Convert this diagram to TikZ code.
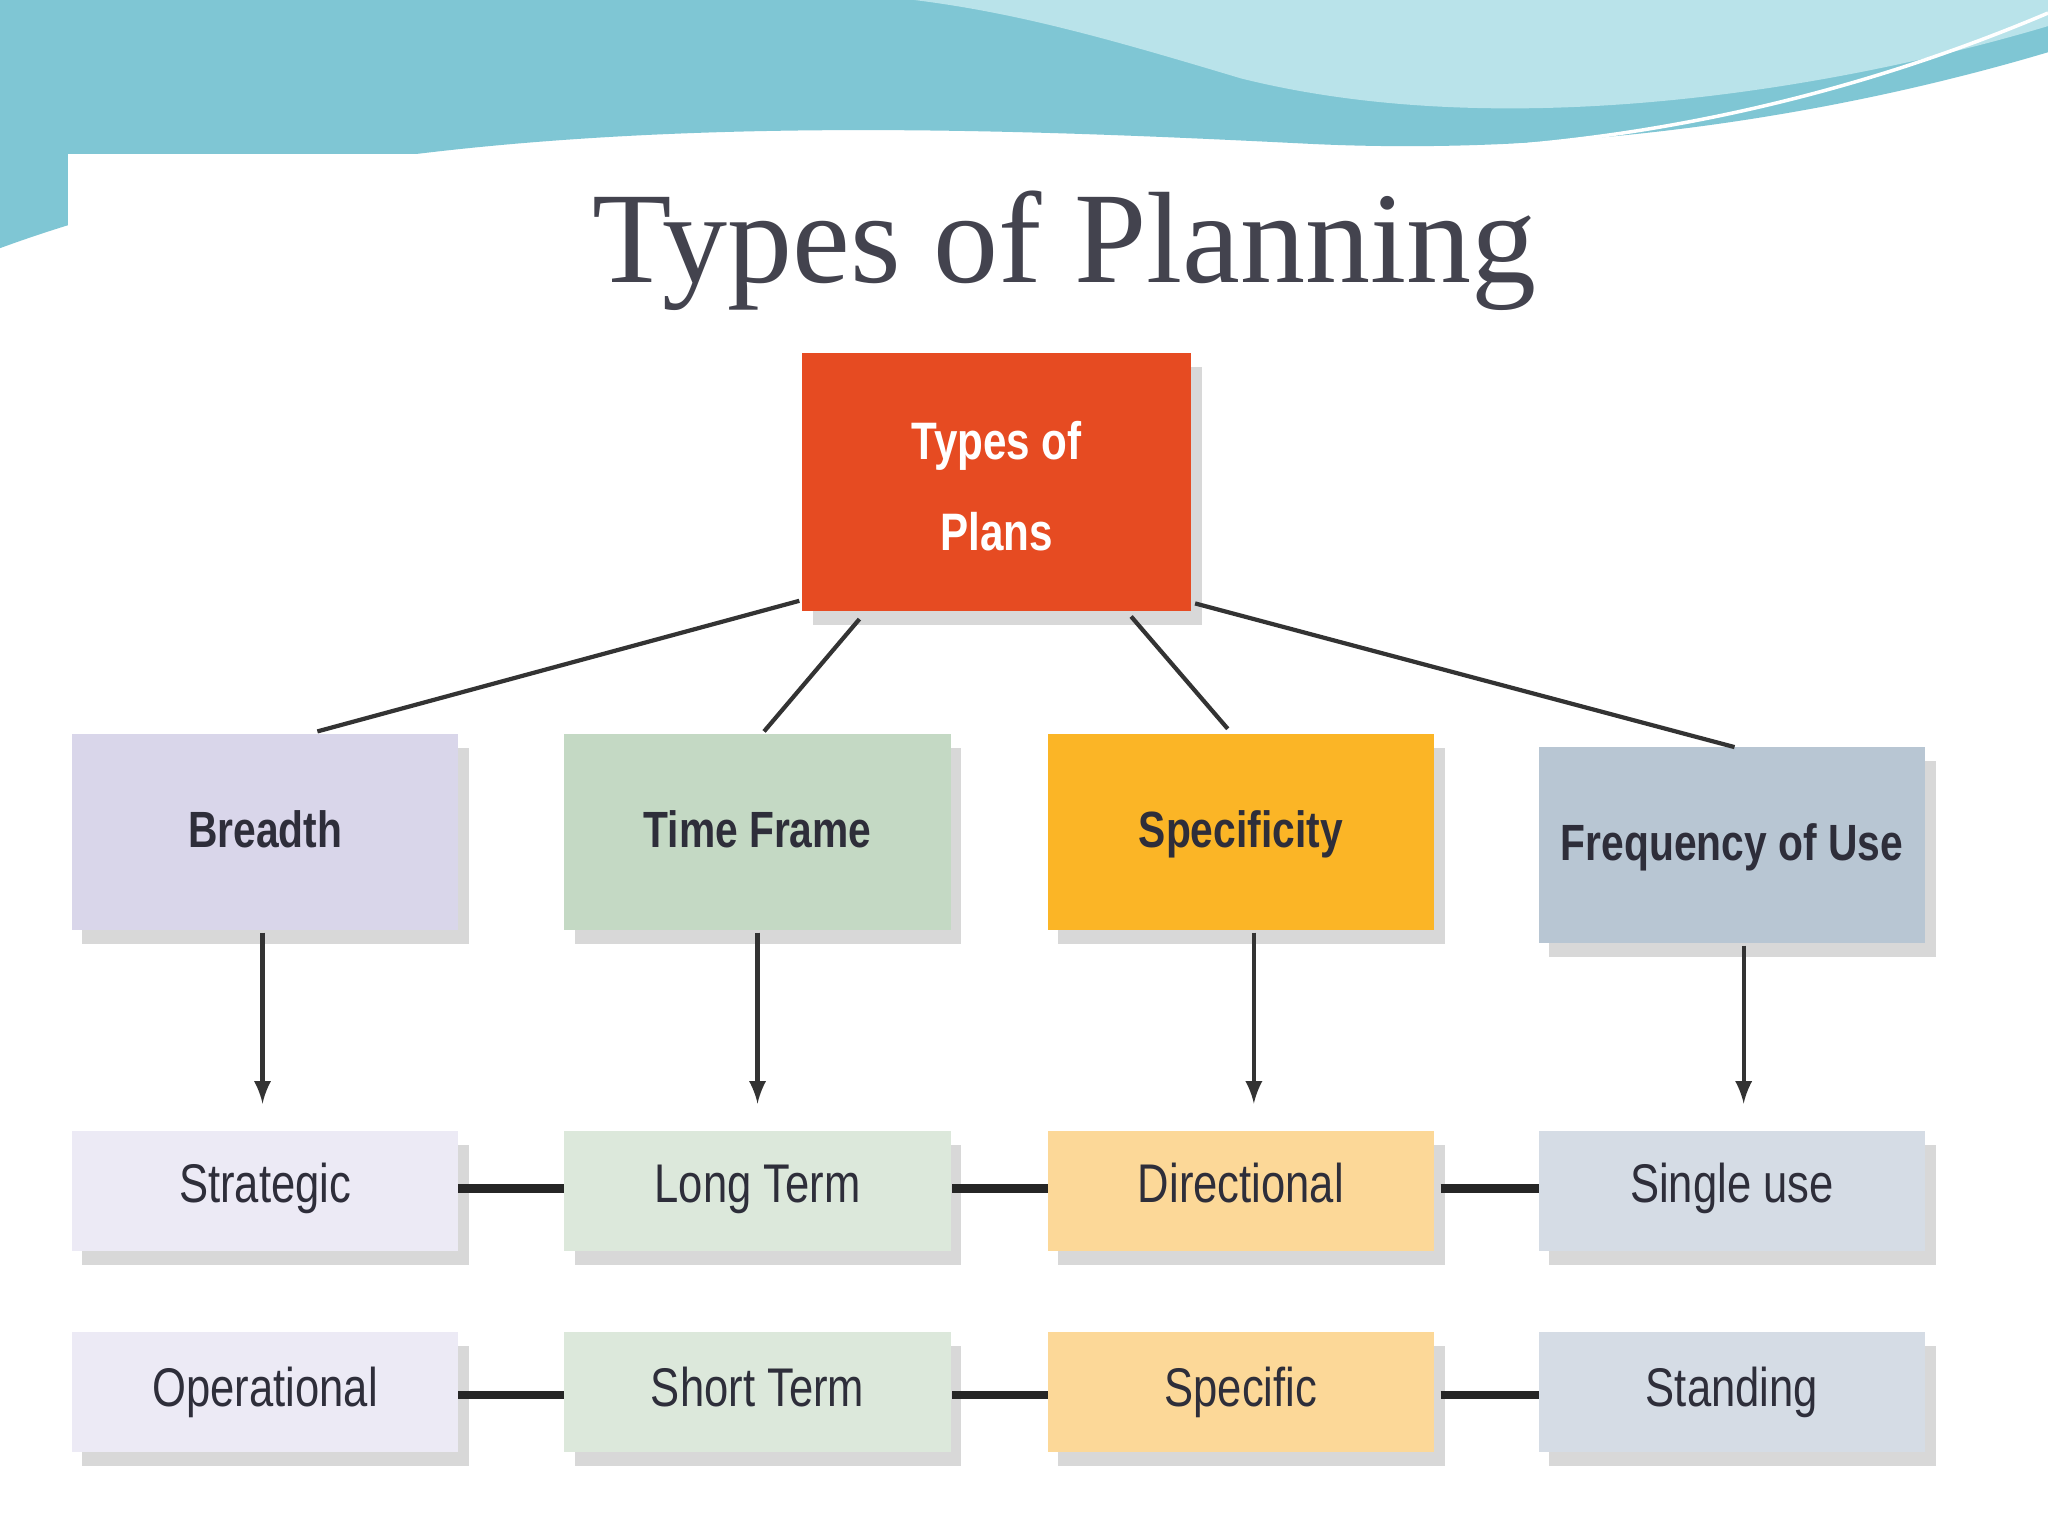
\documentclass[tikz,border=0pt]{standalone}
\usepackage{fontspec}
\setmainfont{Liberation Serif}
\setsansfont{Liberation Sans}
\usetikzlibrary{shadows}
\definecolor{teal1}{HTML}{7FC6D4}
\definecolor{teal2}{HTML}{B9E3EA}
\definecolor{cRed}{HTML}{E64B22}
\definecolor{cLav}{HTML}{D9D6EA}
\definecolor{cGrn}{HTML}{C4D9C4}
\definecolor{cYel}{HTML}{FBB526}
\definecolor{cBlu}{HTML}{B8C6D3}
\definecolor{lLav}{HTML}{ECEAF5}
\definecolor{lGrn}{HTML}{DCE8DB}
\definecolor{lYel}{HTML}{FCD898}
\definecolor{lBlu}{HTML}{D5DCE5}
\definecolor{txt}{HTML}{2E2E3A}
\newcommand{\cnd}[1]{\scalebox{0.8}[1]{#1}}
\tikzset{
  shd/.style={drop shadow={shadow xshift=3pt,shadow yshift=-4pt,fill=gray!60,opacity=0.5}},
  lbl/.style={font=\sffamily\fontsize{15.5}{18}\selectfont,text=txt,text height=11pt,text depth=3pt},
  conn/.style={line width=1.2pt,draw=black!80},
  link/.style={line width=2.5pt,draw=black!85}
}
\begin{document}
\begin{tikzpicture}[x=0.013061cm,y=-0.013061cm]
\useasboundingbox (0,0) rectangle (1568,1176);
\fill[white] (0,0) rectangle (1568,1176);
% top wave
\fill[teal1] (0,0) -- (1568,0) -- (1568,40) .. controls (1400,90) and (1200,120) .. (1000,110) .. controls (700,95) and (300,80) .. (0,190) -- cycle;
\fill[teal2] (700,0) -- (1568,0) -- (1568,20) .. controls (1400,70) and (1150,110) .. (950,60) .. controls (850,30) and (780,10) .. (700,0) -- cycle;
\draw[white,line width=1pt] (0,195) .. controls (300,85) and (700,95) .. (1000,115) .. controls (1250,125) and (1450,60) .. (1568,10);
\fill[white] (52,118) rectangle (1505,1176);
% title
\node[font=\fontsize{37}{44}\selectfont,text=txt!90] (title) at (815,192) {Types of Planning};
% top
\path[fill=cRed,shd] (614,270) rectangle (912,468);
\node[font=\sffamily\bfseries\fontsize{15}{26}\selectfont,text=white,align=center] (top) at (763,372) {\cnd{Types of}\\\cnd{Plans}};
\coordinate (T1) at (612,460); \coordinate (T2) at (658,474);
\coordinate (T3) at (866,472); \coordinate (T4) at (915,462);
% row boxes
\foreach \n/\x/\y/\c/\t in {b/55/562/cLav/Breadth, t/432/562/cGrn/Time Frame, s/802/562/cYel/Specificity, f/1178/572/cBlu/Frequency of Use}{
  \path[fill=\c,shd] (\x,\y) rectangle ++(296,150);
  \node[lbl,font=\sffamily\bfseries\fontsize{14.5}{18}\selectfont] (\n) at (\x+148,\y+76) {\cnd{\t}};
}
\foreach \n/\x/\c/\t in {b3/55/lLav/Strategic, t3/432/lGrn/Long Term, s3/802/lYel/Directional, f3/1178/lBlu/Single use}{
  \path[fill=\c,shd] (\x,866) rectangle ++(296,92);
  \node[lbl] (\n) at (\x+148,910) {\cnd{\t}};
}
\foreach \n/\x/\c/\t in {b4/55/lLav/Operational, t4/432/lGrn/Short Term, s4/802/lYel/Specific, f4/1178/lBlu/Standing}{
  \path[fill=\c,shd] (\x,1020) rectangle ++(296,92);
  \node[lbl] (\n) at (\x+148,1066) {\cnd{\t}};
}
% connectors from top
\coordinate (B1) at (243,560); \coordinate (B2) at (585,560);
\coordinate (B3) at (940,558); \coordinate (B4) at (1328,572);
\draw[conn] (T1) -- (B1); \draw[conn] (T2) -- (B2);
\draw[conn] (T3) -- (B3); \draw[conn] (T4) -- (B4);
% arrows
\foreach \x/\a in {201/714,580/714,960/714,1335/724}{
  \coordinate (a\x) at (\x,\a); \coordinate (e\x) at (\x,845);
  \draw[conn,-latex] (a\x) -- (e\x);
}
% links
\foreach \y in {910,1068}{
  \coordinate (l1) at (351,\y); \coordinate (l2) at (432,\y);
  \coordinate (l3) at (729,\y); \coordinate (l4) at (802,\y);
  \coordinate (l5) at (1103,\y); \coordinate (l6) at (1178,\y);
  \draw[link] (l1) -- (l2); \draw[link] (l3) -- (l4); \draw[link] (l5) -- (l6);
}
\end{tikzpicture}
\end{document}
